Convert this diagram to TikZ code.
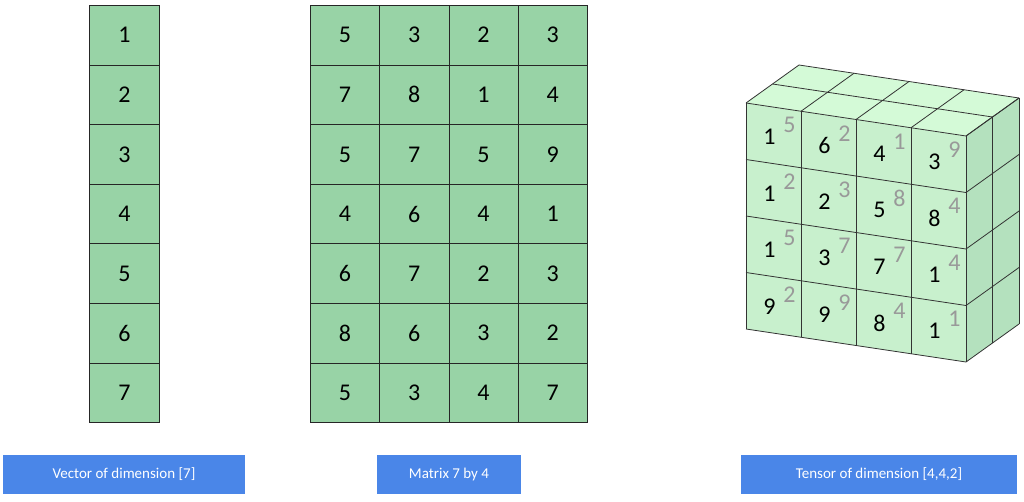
\documentclass[tikz,border=0pt]{standalone}
\usepackage{fontspec}
\setmainfont{Carlito}
\begin{document}
\begin{tikzpicture}[x=1pt,y=-1pt,
  cellbox/.style={draw=black!85,fill=mgreen,line width=0.8pt},
  num/.style={font=\fontsize{24}{26}\selectfont},
  gnum/.style={font=\fontsize{24}{26}\selectfont,text=black!40},
  lab/.style={fill=lblue,text=white,font=\fontsize{15}{18}\selectfont,minimum height=39pt,inner xsep=6pt}]
\definecolor{mgreen}{RGB}{152,211,166}
\definecolor{tfront}{RGB}{200,240,205}
\definecolor{ttop}{RGB}{212,250,215}
\definecolor{tside}{RGB}{180,225,190}
\definecolor{lblue}{RGB}{74,134,232}
\path[use as bounding box] (0,0) rectangle (1024,502);
% vector
\foreach \v [count=\r from 0] in {1,...,7}{
  \node[cellbox,minimum width=70pt,minimum height=59.6pt,inner sep=0,anchor=north west,num] (v\r) at (89,{5+59.6*\r}) {\v};
}
% matrix
\foreach \row [count=\r from 0] in {{5,3,2,3},{7,8,1,4},{5,7,5,9},{4,6,4,1},{6,7,2,3},{8,6,3,2},{5,3,4,7}}{
  \foreach \v [count=\c from 0] in \row {
    \node[cellbox,minimum width=69.25pt,minimum height=59.6pt,inner sep=0,anchor=north west,num] (m\r\c) at ({310+69.25*\c},{5+59.6*\r}) {\v};
  }
}
% tensor
\def\P#1#2#3{({746+55*(#1)+26.5*(#3)},{103+56.5*(#2)+8.25*(#1)-19*(#3)})}
\tikzset{tl/.style={draw=black!80,line width=0.8pt,line join=round}}
\fill[tfront] \P000 -- \P400 -- \P440 -- \P040 -- cycle;
\fill[ttop] \P000 -- \P400 -- \P402 -- \P002 -- cycle;
\fill[tside] \P400 -- \P402 -- \P442 -- \P440 -- cycle;
\foreach \i in {0,...,4}{\draw[tl] \P{\i}00 -- \P{\i}40; \draw[tl] \P{\i}00 -- \P{\i}02;}
\foreach \j in {0,...,4}{\draw[tl] \P0{\j}0 -- \P4{\j}0; \draw[tl] \P4{\j}0 -- \P4{\j}2;}
\foreach \k in {1,2}{\draw[tl] \P00{\k} -- \P40{\k}; \draw[tl] \P40{\k} -- \P44{\k};}
\foreach \row/\grow [count=\j from 0] in {{1,6,4,3}/{5,2,1,9},{1,2,5,8}/{2,3,8,4},{1,3,7,1}/{5,7,7,4},{9,9,8,1}/{2,9,4,1}}{
  \foreach \v [count=\i from 0] in \row {
    \node[num] (t\j\i) at ({746+55*\i+27.5-4},{103+56.5*\j+8.25*\i+28+6}) {\v};
  }
  \foreach \g [count=\i from 0] in \grow {
    \node[gnum] (g\j\i) at ({746+55*\i+27.5+16},{103+56.5*\j+8.25*\i+28-6}) {\g};
  }
}
% labels
\node[lab,minimum width=242pt] (l1) at (124,474) {Vector of dimension [7]};
\node[lab,minimum width=144pt] (l2) at (449,474) {Matrix 7 by 4};
\node[lab,minimum width=276pt] (l3) at (879,474) {Tensor of dimension [4,4,2]};
\end{tikzpicture}
\end{document}
